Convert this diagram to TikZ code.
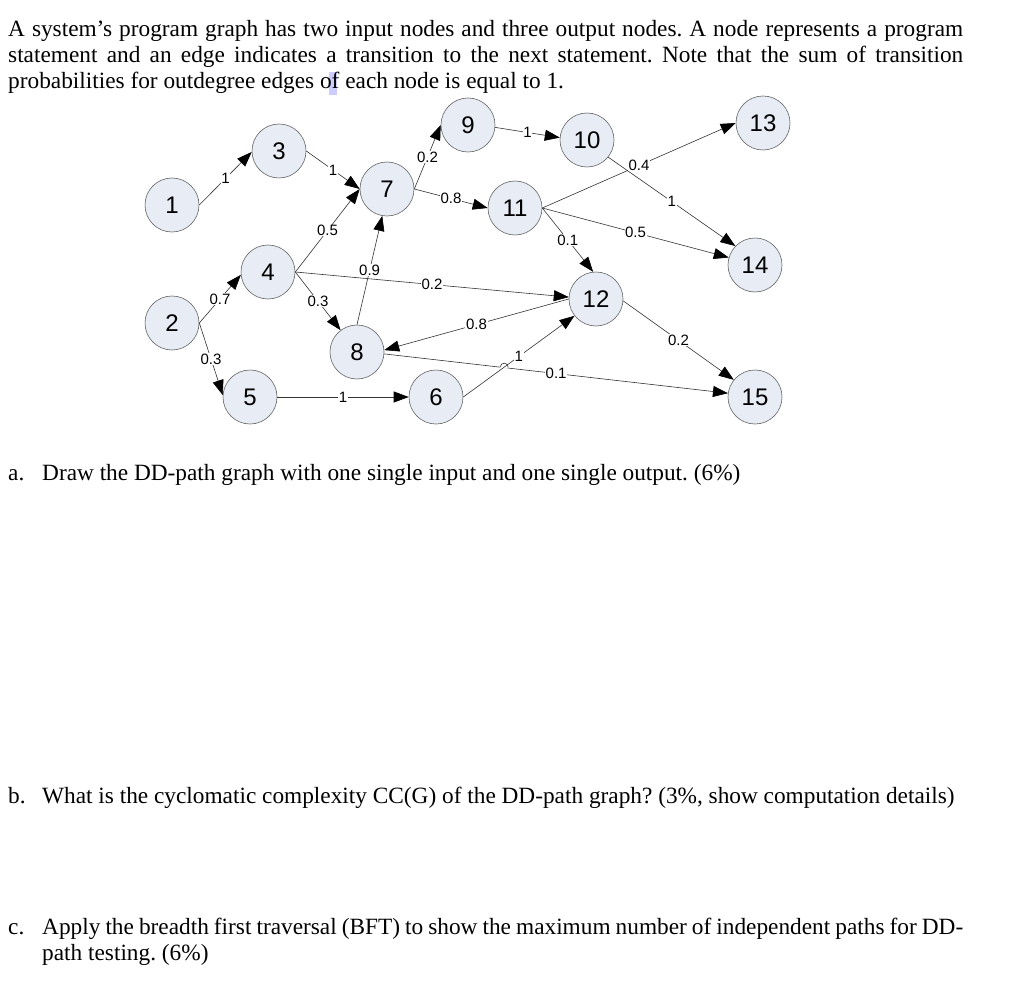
\documentclass[tikz,border=0pt]{standalone}
\usepackage{fontspec}
\setmainfont{Liberation Serif}
\newfontfamily\graphfont{Liberation Sans}
\usetikzlibrary{arrows.meta,calc}
\definecolor{nodefill}{HTML}{E8ECF5}
\frenchspacing

\begin{document}
\begin{tikzpicture}
 [x=1pt, y=-1pt,
  prog node/.style={circle, minimum size=54pt, inner sep=0pt, fill=nodefill, draw=black!60, line width=0.6pt, font=\graphfont\fontsize{24}{24}\selectfont},
  prob/.style={fill=white, inner sep=0.6pt, font=\graphfont\fontsize{15}{15}\selectfont},
  flow/.style={-{Triangle[length=15pt,width=11pt,color=black]}, draw=black!80, line width=0.6pt},
  question/.style={anchor=base west, inner sep=0pt, font=\fontsize{23.3}{26}\selectfont}]

\useasboundingbox[fill=white] (0,0) rectangle (1024,992);

% problem statement
\fill[blue!20] (329,72) rectangle (337,95);
\node[question] (intro1) at (8,37) {\makebox[955pt][s]{A system’s program graph has two input nodes and three output nodes. A node represents a program}};
\node[question] (intro2) at (8,63) {\makebox[955pt][s]{statement and an edge indicates a transition to the next statement. Note that the sum of transition}};
\node[question] (intro3) at (8,89) {probabilities for outdegree edges of each node is equal to 1.};

% program graph
\node[prog node] (1) at (172,205) {1};
\node[prog node] (2) at (172,323) {2};
\node[prog node] (3) at (279,151) {3};
\node[prog node] (4) at (268,272) {4};
\node[prog node] (5) at (250,397) {5};
\node[prog node] (6) at (436,397) {6};
\node[prog node] (7) at (387,189) {7};
\node[prog node] (8) at (357,352) {8};
\node[prog node] (9) at (468,125) {9};
\node[prog node] (10) at (587,140) {10};
\node[prog node] (11) at (515,208) {11};
\node[prog node] (12) at (596,299) {12};
\node[prog node] (13) at (763,123) {13};
\node[prog node] (14) at (755,265) {14};
\node[prog node] (15) at (755,397) {15};

\path
  (1.0) edge [flow] node [prob] {1} (3.182)
  (3.0) edge [flow] node [prob] {1} (7.180)
  (4.0) edge [flow] node [prob] {0.5} (7.180)
  (8.90) edge [flow] node [prob] {0.9} (7.-100)
  (7.0) edge [flow] node [prob] {0.2} (9.180)
  (7.0) edge [flow] node [prob] {0.8} (11.180)
  (9.-5) edge [flow] node [prob] {1} (10.175)

  (10.-39) edge [flow] node [prob] {1} (14.136)
  (11.0) edge [flow] node [prob] {0.4} (13.180)
  (11.0) edge [flow] node [prob] {0.5} (14.164)
  (11.0) edge [flow] node [prob] {0.1} (12.96)

  (2.0) edge [flow] node [prob] {0.7} (4.186)
  (2.0) edge [flow] node [prob] {0.3} (5.176)
  (4.0) edge [flow] node [prob] {0.3} (8.127)
  (4.0) edge [flow] node [prob] {0.2} (12.176)
  (12.180) edge [flow] node [prob] {0.8} (8.4)
  (5.0) edge [flow] node [prob] {1} (6.180)
  (12.-4) edge [flow] node [prob] {0.2} (15.141)
  (8.-4) edge [flow] node [prob] {0.1} (15.172);

% line jump where 6->12 crosses 8->15
\coordinate (hop) at (504.2,367.1);
\draw[white, line width=2pt] ($(hop)!4pt!(8.-4)$) -- ($(hop)!4pt!(15.172)$);
\draw[draw=black!80, line width=0.6pt] ($(hop)!4pt!(8.-4)$) arc[start angle=173.4, end angle=-6.6, radius=4pt];
\path (6.0) edge [flow] node [prob] {1} (12.-142);

% questions
\node[question] (qa) at (8,480) {\makebox[34pt][l]{a.}Draw the DD-path graph with one single input and one single output. (6\%)};
\node[question] (qb) at (8,803) {\makebox[34pt][l]{b.}What is the cyclomatic complexity CC(G) of the DD-path graph? (3\%, show computation details)};
\node[question] (qc1) at (8,934) {\makebox[34pt][l]{c.}\makebox[921pt][s]{Apply the breadth first traversal (BFT) to show the maximum number of independent paths for DD-}};
\node[question] (qc2) at (42,960) {path testing. (6\%)};
\end{tikzpicture}
\end{document}
